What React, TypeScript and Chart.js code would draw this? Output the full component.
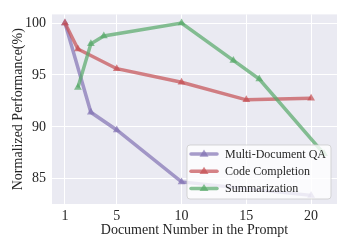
import React, { useEffect, useRef } from "react";
import { Chart, registerables } from "chart.js";

Chart.register(...registerables);

const seriesNames = ["Multi-Document QA", "Code Completion", "Summarization"];
const qaX = [1, 3, 5, 10, 20];
const qaY = [100, 91.4, 89.7, 84.7, 83.4];
const codeX = [1, 2, 5, 10, 15, 20];
const codeY = [100, 97.5, 95.6, 94.3, 92.6, 92.75];
const sumX = [2, 3, 4, 10, 14, 16, 21];
const sumY = [93.8, 98.0, 98.75, 100, 96.4, 94.6, 87.4];
const xTicks = [1, 5, 10, 15, 20];
const yTicks = [85, 90, 95, 100];
const colors = ["rgba(129,114,179,0.7)", "rgba(196,78,82,0.7)", "rgba(85,168,104,0.7)"];

const FONT = "'Liberation Serif', 'DejaVu Serif', serif";

const toPts = (xs: number[], ys: number[]) => xs.map((x, i) => ({ x, y: ys[i] }));

const bgPlugin = {
  id: "bgPlugin",
  beforeDraw(chart: any) {
    const { ctx, chartArea } = chart;
    ctx.save();
    ctx.fillStyle = "#eaeaf2";
    ctx.fillRect(chartArea.left, chartArea.top, chartArea.right - chartArea.left, chartArea.bottom - chartArea.top);
    ctx.restore();
  },
};

const legendPlugin = {
  id: "customLegend",
  afterDraw(chart: any) {
    const { ctx, chartArea } = chart;
    ctx.save();
    ctx.font = `12px ${FONT}`;
    const maxW = Math.max(...seriesNames.map((n) => ctx.measureText(n).width));
    const w = 38 + maxW + 5;
    const h = 54;
    const right = chartArea.right - 6;
    const bottom = chartArea.bottom - 5;
    const left = right - w;
    const top = bottom - h;
    ctx.beginPath();
    const r = 3;
    ctx.moveTo(left + r, top);
    ctx.arcTo(right, top, right, bottom, r);
    ctx.arcTo(right, bottom, left, bottom, r);
    ctx.arcTo(left, bottom, left, top, r);
    ctx.arcTo(left, top, right, top, r);
    ctx.closePath();
    ctx.fillStyle = "rgba(255,255,255,0.8)";
    ctx.fill();
    ctx.strokeStyle = "rgba(204,204,204,0.8)";
    ctx.lineWidth = 1;
    ctx.stroke();
    seriesNames.forEach((name, i) => {
      const cy = top + 9 + i * 17.2;
      ctx.strokeStyle = colors[i];
      ctx.lineWidth = 3.5;
      ctx.lineCap = "round";
      ctx.beginPath();
      ctx.moveTo(left + 4, cy);
      ctx.lineTo(left + 30, cy);
      ctx.stroke();
      ctx.fillStyle = colors[i];
      const mx = left + 17;
      const s = 4.5;
      ctx.beginPath();
      ctx.moveTo(mx, cy - s);
      ctx.lineTo(mx + s, cy + s * 0.6);
      ctx.lineTo(mx - s, cy + s * 0.6);
      ctx.closePath();
      ctx.fill();
      ctx.fillStyle = "#262626";
      ctx.textBaseline = "middle";
      ctx.textAlign = "left";
      ctx.fillText(name, left + 38, cy + 0.5);
    });
    ctx.restore();
  },
};

export default function App() {
  const ref = useRef<HTMLCanvasElement>(null);
  useEffect(() => {
    if (!ref.current) return;
    const mk = (i: number, xs: number[], ys: number[], order: number) => ({
      label: seriesNames[i],
      data: toPts(xs, ys),
      borderColor: colors[i],
      backgroundColor: colors[i],
      borderWidth: 3.5,
      pointStyle: "triangle",
      pointRadius: 4.5,
      pointBorderWidth: 0,
      pointBackgroundColor: colors[i],
      tension: 0,
      order,
    });
    const chart = new Chart(ref.current, {
      type: "line",
      data: {
        datasets: [mk(0, qaX, qaY, 3), mk(1, codeX, codeY, 2), mk(2, sumX, sumY, 1)] as any,
      },
      options: {
        animation: false,
        responsive: false,
        maintainAspectRatio: false,
        layout: { padding: { top: 11, right: 12, left: 0, bottom: 0 } },
        plugins: { legend: { display: false }, tooltip: { enabled: false } },
        scales: {
          x: {
            type: "linear",
            min: 0,
            max: 22,
            afterBuildTicks: (s: any) => {
              s.ticks = xTicks.map((v) => ({ value: v }));
            },
            afterFit: (s: any) => {
              s.height = 45;
            },
            grid: { color: "#ffffff", lineWidth: 1, drawTicks: false },
            border: { display: false },
            ticks: { color: "#262626", font: { family: FONT, size: 14 }, padding: 4, maxRotation: 0, autoSkip: false },
            title: {
              display: true,
              text: "Document Number in the Prompt",
              color: "#262626",
              font: { family: FONT, size: 14 },
              padding: { top: 0, bottom: 10 },
            },
          },
          y: {
            type: "linear",
            min: 82.57,
            max: 100.83,
            afterBuildTicks: (s: any) => {
              s.ticks = yTicks.map((v) => ({ value: v }));
            },
            afterFit: (s: any) => {
              s.width = 52;
            },
            grid: { color: "#ffffff", lineWidth: 1, drawTicks: false },
            border: { display: false },
            ticks: { color: "#262626", font: { family: FONT, size: 14 }, padding: 6 },
            title: {
              display: true,
              text: "Normalized Performance(%)",
              color: "#262626",
              font: { family: FONT, size: 14 },
              padding: { top: 10, bottom: 0 },
            },
          },
        },
      },
      plugins: [bgPlugin, legendPlugin],
    });
    return () => chart.destroy();
  }, []);
  return (
    <div style={{ position: "fixed", left: 0, top: 0, width: 349, height: 249, background: "#fff" }}>
      <canvas ref={ref} width={349} height={249} style={{ width: 349, height: 249 }} />
    </div>
  );
}
